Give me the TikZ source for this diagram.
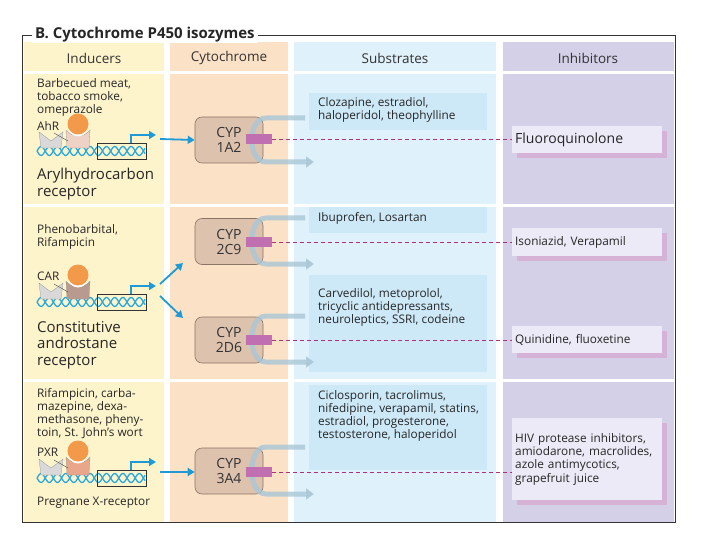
\documentclass[tikz,border=0pt]{standalone}
\usepackage{fontspec}
\setmainfont{Open Sans}
\usetikzlibrary{arrows.meta}
\definecolor{cyel}{HTML}{FDF4CC}
\definecolor{cpea}{HTML}{FBE2C6}
\definecolor{cblu}{HTML}{DFF1FA}
\definecolor{clav}{HTML}{D4D0E8}
\definecolor{sblu}{HTML}{CDE9F7}
\definecolor{ibox}{HTML}{ECEAF6}
\definecolor{ishd}{HTML}{D6B2D6}
\definecolor{cypf}{HTML}{DDC2AE}
\definecolor{cypb}{HTML}{8A7565}
\definecolor{pbar}{HTML}{C070B0}
\definecolor{dash}{HTML}{B0307A}
\definecolor{garr}{HTML}{A9C6D6}
\definecolor{barr}{HTML}{1E9BD7}
\definecolor{helix}{HTML}{2AA8DC}
\definecolor{orng}{HTML}{F39A4A}
\begin{document}
\begin{tikzpicture}[x=1pt,y=-1pt,
  txt/.style={font=\fontsize{11.8}{13.2}\selectfont, align=left, inner sep=0pt, anchor=north west, text=black!85},
  big/.style={font=\fontsize{15}{16.5}\selectfont, align=left, inner sep=0pt, anchor=north west, text=black!85},
  hdr/.style={font=\fontsize{13.5}{15}\selectfont, text=black!80},
  cyp/.style={draw=cypb, fill=cypf, rounded corners=7pt, minimum width=68pt, minimum height=46pt, align=center, font=\fontsize{14}{15}\selectfont, text=black!80, line width=0.6pt},
  inh/.style={fill=ibox, inner xsep=3pt, inner ysep=4pt, anchor=north west, text width=144pt, minimum height=27pt, font=\fontsize{11.8}{13.2}\selectfont, align=left, text=black!85},
  gar/.style={draw=garr, opacity=0.8, line width=5pt, -{Triangle[length=8pt,width=11pt]}},
  bar/.style={-{Triangle[length=7pt,width=8pt]}, draw=barr, line width=1.8pt},
  dl/.style={draw=dash, dashed, dash pattern=on 4pt off 3pt, line width=0.7pt}]
\useasboundingbox (0,0) rectangle (720,540);
\fill[white] (0,0) rectangle (720,540);
% columns
\fill[cyel] (24,42) rectangle (164,522);
\fill[cpea] (170,42) rectangle (288,522);
\fill[cblu] (294,42) rectangle (496,522);
\fill[clav] (503,42) rectangle (674,522);
\foreach \y in {73,206,380}{\fill[white] (24,\y-1.5) rectangle (674,\y+1.5);}
% frame
\draw[black!80, line width=1pt] (22,36) -- (675,36) -- (675,522) -- (22,522) -- cycle;
\node[fill=white, inner xsep=3pt, inner ysep=1pt, anchor=west, font=\bfseries\fontsize{15}{17}\selectfont, text=black!85] (title) at (32,35) {B. Cytochrome P450 isozymes};
% headers
\node[hdr] (h1) at (94,58) {Inducers};
\node[hdr] (h2) at (229,58) {Cytochrome};
\node[hdr] (h3) at (395,58) {Substrates};
\node[hdr] (h4) at (588,58) {Inhibitors};
% substrate boxes
\fill[sblu] (309,93) rectangle (487,130);
\fill[sblu] (309,207) rectangle (487,233);
\fill[sblu] (309,275) rectangle (487,372);
\fill[sblu] (309,385) rectangle (487,470);
\node[txt] (s1) at (318,97) {Clozapine, estradiol,\\haloperidol, theophylline};
\node[txt] (s2) at (318,212) {Ibuprofen, Losartan};
\node[txt] (s3) at (318,288) {Carvedilol, metoprolol,\\tricyclic antidepressants,\\neuroleptics, SSRI, codeine};
\node[txt] (s4) at (318,390) {Ciclosporin, tacrolimus,\\nifedipine, verapamil, statins,\\estradiol, progesterone,\\testosterone, haloperidol};
% CYP boxes
\node[cyp] (c1) at (229,140) {CYP\\1A2};
\node[cyp] (c2) at (229,241.5) {CYP\\2C9};
\node[cyp] (c3) at (229,340) {CYP\\2D6};
\node[cyp] (c4) at (229,471) {CYP\\3A4};
% grey curved arrows
\foreach \a/\b in {118/162, 218/264, 316/362, 447/494}{
  \draw[gar] (305,\a) -- (266,\a) .. controls (247,\a) and (247,\b) .. (266,\b) -- (314,\b);
}
\foreach \n/\y in {1/139,2/242,3/340,4/472}{
  \fill[pbar] (246,\y-5) rectangle (272,\y+5);
  \coordinate (p\n) at (272,\y);
}
% inhibitor boxes
\fill[ishd] (517,131) rectangle (667,158);
\fill[ishd] (517,233) rectangle (667,261);
\fill[ishd] (517,331) rectangle (667,358);
\fill[ishd] (517,423) rectangle (667,505);
\node[inh, minimum height=27pt] (i1) at (512,126) {\fontsize{14}{15}\selectfont Fluoroquinolone};
\node[inh, minimum height=28pt] (i2) at (512,228) {Isoniazid, Verapamil};
\node[inh, minimum height=27pt] (i3) at (512,326) {Quinidine, fluoxetine};
\node[inh, minimum height=82pt, inner ysep=11pt] (i4) at (512,418) {HIV protease inhibitors,\\amiodarone, macrolides,\\azole antimycotics,\\grapefruit juice};
\draw[dl] (p1) -- (p1 -| i1.west);
\draw[dl] (p2) -- (p2 -| i2.west);
\draw[dl] (p3) -- (p3 -| i3.west);
\draw[dl] (p4) -- (p4 -| i4.west);
% inducer texts
\node[txt] (t1) at (37,78) {Barbecued meat,\\tobacco smoke,\\omeprazole};
\node[txt] (t2) at (37,224) {Phenobarbital,\\Rifampicin};
\node[txt] (t3) at (37,388) {Rifampicin, carba-\\mazepine, dexa-\\methasone, pheny-\\toin, St. John's wort};
\node[big] (r1) at (37,168) {Arylhydrocarbon\\receptor};
\node[big] (r2) at (37,321) {Constitutive\\androstane\\receptor};
\node[txt] (r3) at (37,497) {Pregnane X-receptor};
% receptor graphics
\foreach \n/\lab/\yd/\col in {1/AhR/151/EED2C6, 2/CAR/302/B89A8E, 3/PXR/478/E9A68A}{
  \begin{scope}[shift={(0,\yd)}]
    \definecolor{rc}{HTML}{\col}
    \draw[helix, line width=1.3pt, domain=0:108, samples=100] plot (\x+37,{4.5*sin(\x*22)});
    \draw[helix, line width=1.3pt, domain=0:108, samples=100] plot (\x+37,{-4.5*sin(\x*22)});
    \draw[black!80, line width=0.6pt] (97,-8) rectangle (146,8);
    \fill[black!15, draw=black!40, line width=0.3pt] (41,-3) -- (39,-19) -- (51,-10) -- (63,-19) -- (61,-3) -- cycle;
    \fill[rc, draw=black!40, line width=0.3pt] (67,-3) -- (66,-21) .. controls (72,-13) and (84,-13) .. (90,-21) -- (89,-3) -- cycle;
    \fill[white] (78,-24) circle (9.5);
    \fill[orng] (78,-27) circle (10.5);
    \node[txt] (l\n) at (37,-30) {\lab};
    \draw[black!70, line width=0.4pt] (54,-18) -- (68,-10);
    \draw[bar] (131,-8) -- (131,-16) -- (156,-16);
  \end{scope}
}
\coordinate (a1) at (160,139);
\draw[bar] (a1) -- (c1.west);
\coordinate (a2) at (160,284);
\coordinate (a3) at (160,296);
\draw[bar] (a2) -- (183,263);
\draw[bar] (a3) -- (183,318);
\coordinate (a4) at (160,472);
\draw[bar] (a4) -- (c4.west |- a4);
\end{tikzpicture}
\end{document}
